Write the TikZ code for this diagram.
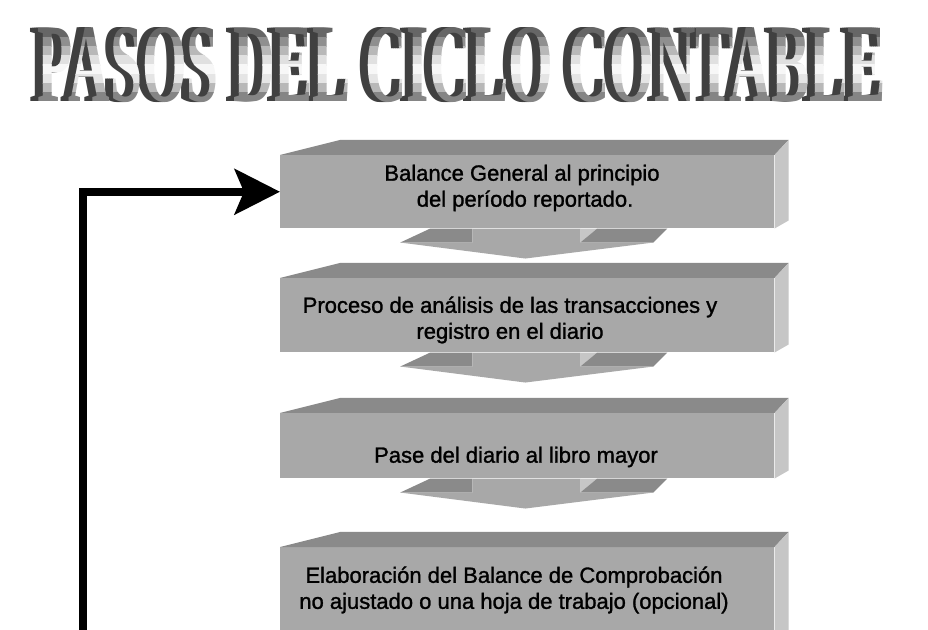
\documentclass[tikz,border=0pt]{standalone}
\usepackage{fontspec}
\setmainfont{Liberation Sans}[FakeBold=1.3]
\newfontfamily\titlefont{Liberation Serif}
\usepackage{xcolor}
\usetikzlibrary{arrows.meta,positioning}

\definecolor{frontgray}{HTML}{A8A8A8}
\definecolor{topgray}{HTML}{8A8A8A}
\definecolor{sidegray}{HTML}{C6C6C6}
\definecolor{deepgray}{HTML}{404040}

\newcommand{\titletext}{\resizebox{636pt}{55.5pt}{\titlefont\bfseries PASOS DEL CICLO CONTABLE}}

% top and side faces of a box
\newcommand{\boxfaces}[1]{%
  \fill[topgray] (#1.north west) -- ([shift={(60,-15)}]#1.north west) -- ([shift={(14,-15)}]#1.north east) -- (#1.north east) -- cycle;
  \fill[sidegray] (#1.north east) -- ([shift={(14,-15)}]#1.north east) -- ([shift={(14,-8)}]#1.south east) -- (#1.south east) -- cycle;
}
% arrow under a box
\newcommand{\stepdown}[1]{%
  \fill[topgray] ([shift={(-127,14)}]#1.south) -- ([shift={(-97,0)}]#1.south) -- ([shift={(-55,0)}]#1.south) -- ([shift={(-55,14)}]#1.south) -- cycle;
  \fill[sidegray] ([shift={(53,0)}]#1.south) -- ([shift={(70,0)}]#1.south) -- ([shift={(53,14)}]#1.south) -- cycle;
  \fill[topgray] ([shift={(53,14)}]#1.south) -- ([shift={(70,0)}]#1.south) -- ([shift={(140,0)}]#1.south) -- ([shift={(126,14)}]#1.south) -- cycle;
  \fill[frontgray] ([shift={(-127,14)}]#1.south) -- ([shift={(-55,14)}]#1.south) -- ([shift={(-55,0)}]#1.south) -- ([shift={(53,0)}]#1.south) -- ([shift={(53,14)}]#1.south) -- ([shift={(126,14)}]#1.south) -- ([shift={(-2,30)}]#1.south) -- cycle;
}

\begin{document}
\begin{tikzpicture}[x=0.75pt, y=-0.75pt,
  front/.style={rectangle, fill=frontgray, inner sep=0pt, anchor=north west, minimum width=494*0.75pt},
  steptext/.style={align=center, font=\fontsize{16.5}{19.5}\selectfont, text=black}]
  \fill[white] (0,0) rectangle (928,630);
  \useasboundingbox (0,0) rectangle (928,630);

  % title
  \foreach \d in {8,6,4,2}
    \node[text=deepgray, inner sep=0pt] (shade\d) at (462-\d, 65) {\titletext};
  \foreach \i/\g in {0/40,1/56,2/72,3/88,4/97,5/90,6/72,7/52} {
    \begin{scope}
      \clip (0,28+9.25*\i) rectangle (928,28+9.25*\i+9.4);
      \node[text=white!\g!black, inner sep=0pt] (band\i) at (462,65) {\titletext};
    \end{scope}
  }

  % boxes
  \node (box1) [front, minimum height=73*0.75pt] at (280,155) {};
  \node (box2) [front, minimum height=74*0.75pt] at (280,278) {};
  \node (box3) [front, minimum height=65*0.75pt] at (280,413) {};
  \node (box4) [front, minimum height=100*0.75pt] at (280,547) {};
  \boxfaces{box1} \boxfaces{box2} \boxfaces{box3} \boxfaces{box4}
  \stepdown{box1} \stepdown{box2} \stepdown{box3}

  \node (text1) [steptext] at (522,188) {Balance General al principio\\ \ del período reportado.};
  \node (text2) [steptext] at (510,320) {Proceso de análisis de las transacciones y\\ registro en el diario};
  \node (text3) [steptext] at (516,457) {Pase del diario al libro mayor};
  \node (text4) [steptext] at (514,590) {Elaboración del Balance de Comprobación\\ no ajustado o una hoja de trabajo (opcional)};

  % back to the start
  \coordinate (loopstart) at (83,640);
  \draw[line width=6pt, -{Stealth[length=34pt, width=34pt, inset=7pt]}] (loopstart) |- (box1.west);
\end{tikzpicture}
\end{document}
